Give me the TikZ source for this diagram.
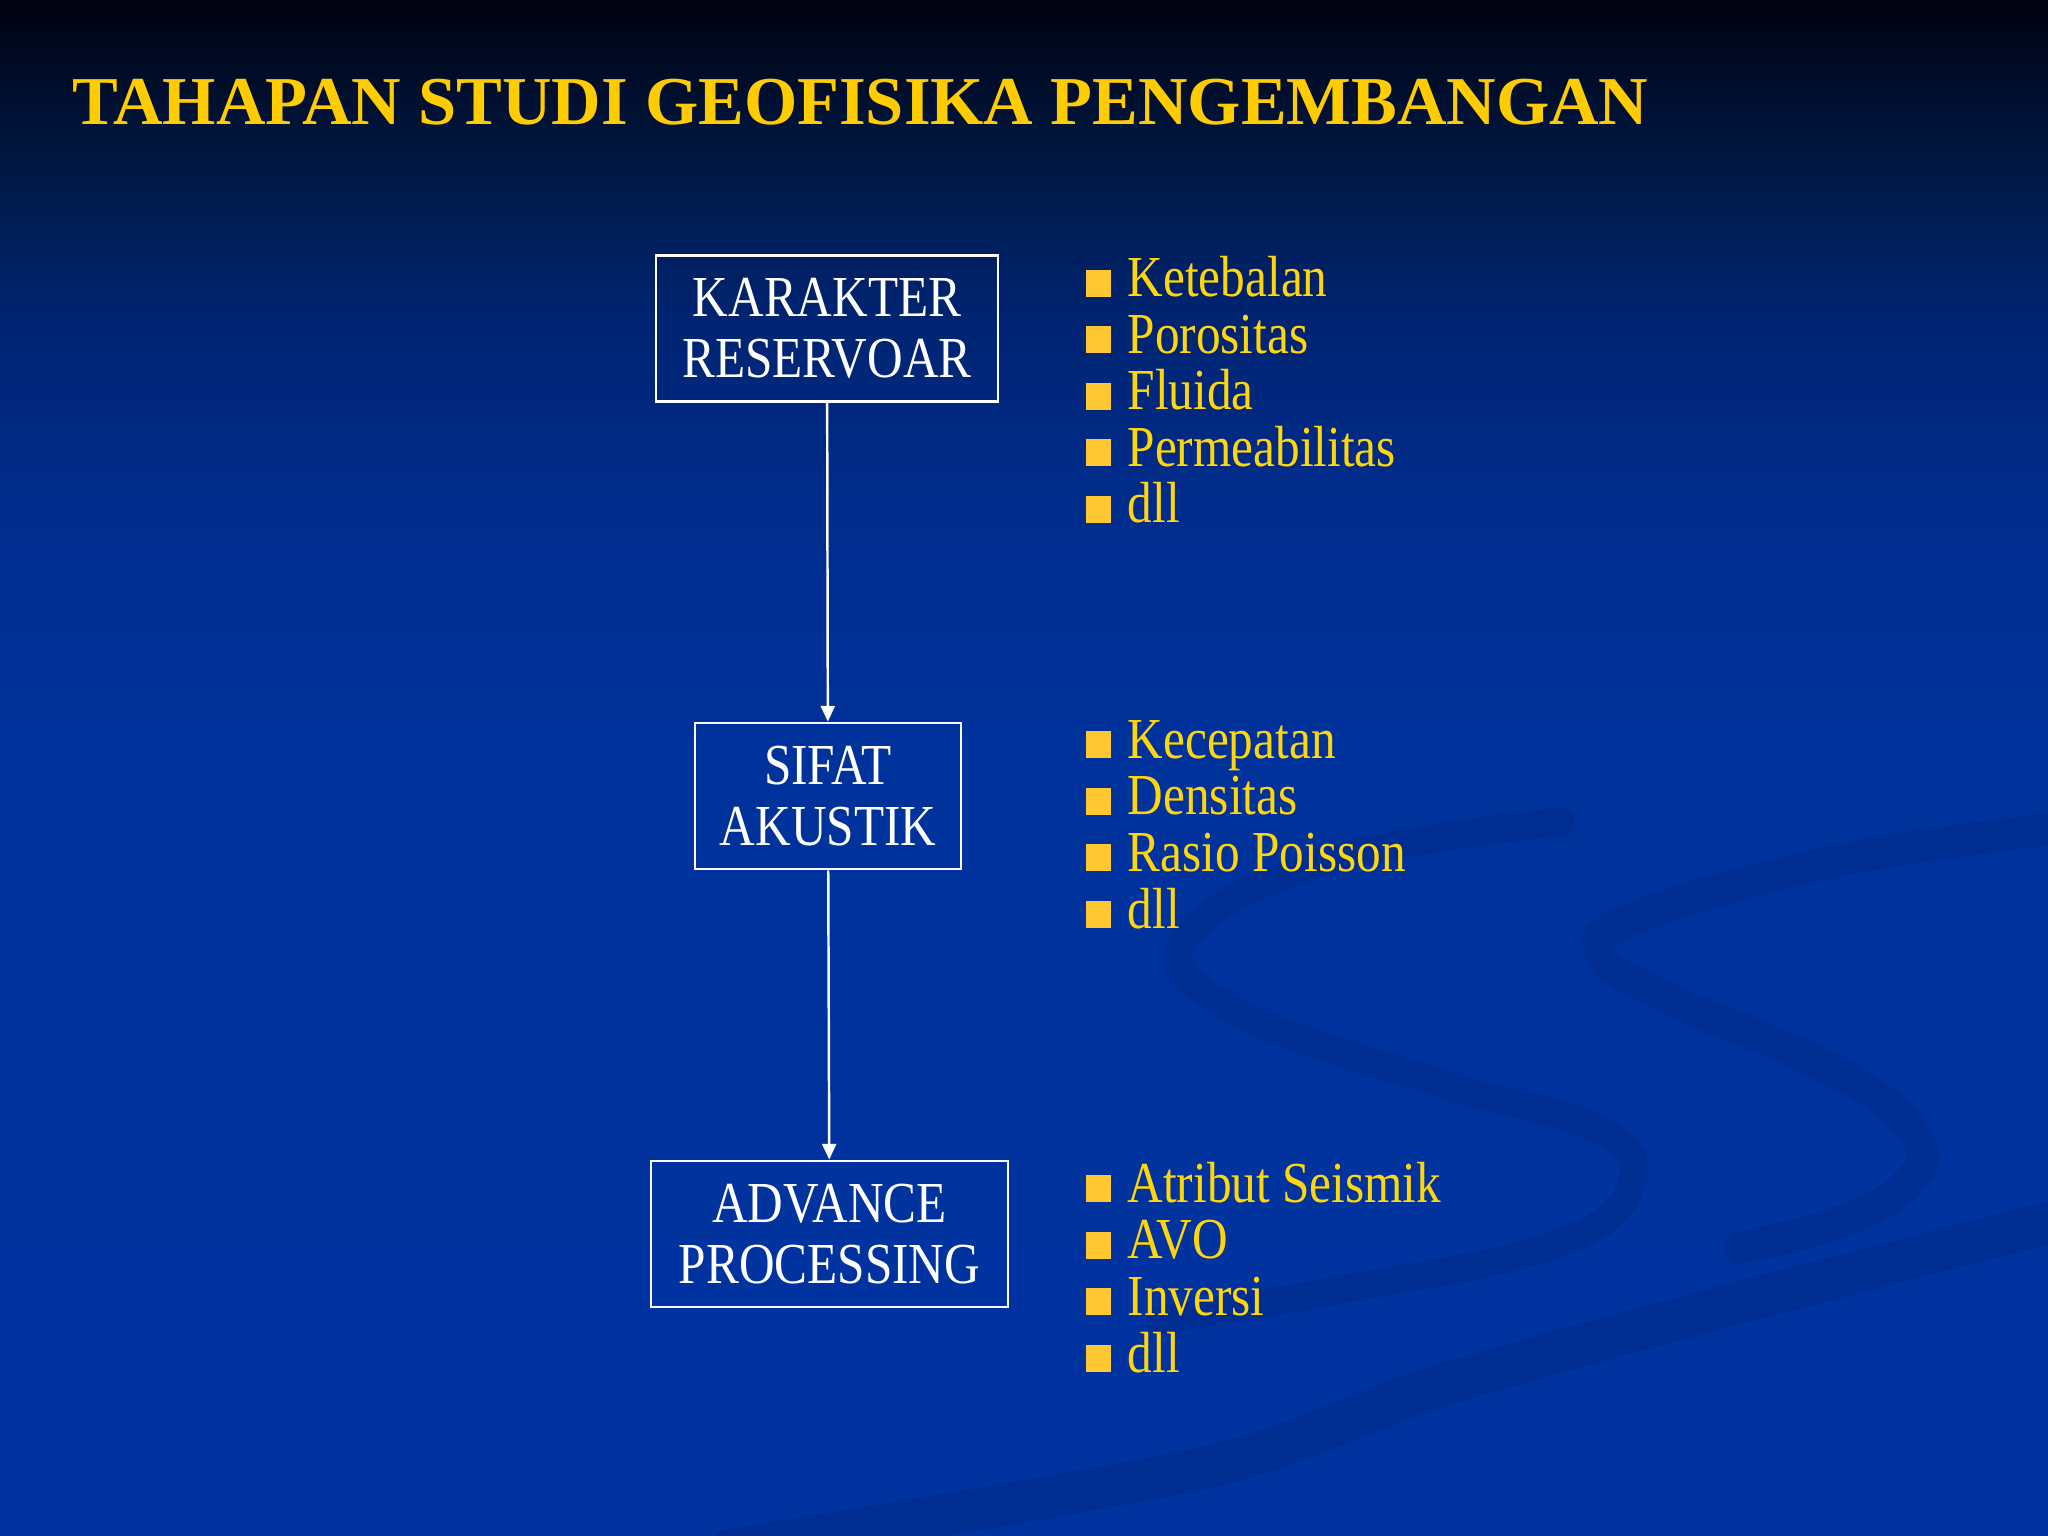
\documentclass[tikz,border=0pt]{standalone}
\usepackage{fontspec}
\setmainfont{Liberation Serif}[FakeStretch=0.85]
\newfontfamily\headfont{Liberation Serif}
\usetikzlibrary{arrows.meta, positioning}

\definecolor{bgtop}{RGB}{0,2,14}
\definecolor{bga}{RGB}{0,8,28}
\definecolor{bgb}{RGB}{0,22,64}
\definecolor{bgc}{RGB}{0,35,110}
\definecolor{bgd}{RGB}{0,44,140}
\definecolor{bge}{RGB}{0,50,156}
\definecolor{bgbot}{RGB}{0,51,160}
\definecolor{headgold}{RGB}{255,204,0}
\definecolor{itemgold}{RGB}{255,214,10}
\definecolor{sqgold}{RGB}{255,200,50}
\definecolor{swirlblue}{RGB}{0,45,146}

\pgfdeclareverticalshading{slidebg}{100bp}{color(0bp)=(bgbot); color(25bp)=(bgbot); color(50.6bp)=(bge); color(58.7bp)=(bgd); color(65.2bp)=(bgc); color(70.1bp)=(bgb); color(73.7bp)=(bga); color(75bp)=(bgtop); color(100bp)=(bgtop)}

\newcommand{\sqbullet}{\textcolor{sqgold}{\rule{0.25cm}{0.27cm}}\hspace{0.17cm}}

\tikzstyle{box} = [rectangle, draw=white, line width=0.8pt, text=white, align=center, minimum height=1.46cm, inner xsep=0pt, font=\fontsize{16.5}{17.4}\selectfont]
\tikzstyle{arrow} = [draw=white, line width=0.7pt, -{Triangle[length=4.5pt,width=4pt]}]
\tikzstyle{listitem} = [anchor=base west, inner sep=0pt, text=itemgold, font=\fontsize{16.5}{17.4}\selectfont]
\tikzstyle{swirl} = [draw=swirlblue, line cap=round]

\begin{document}
\begin{tikzpicture}
	% background
	\shade[shading=slidebg] (0,0) rectangle (20.48,-15.36);
	\useasboundingbox (0,0) rectangle (20.48,-15.36);
	\draw [swirl, line width=0.28cm] plot[smooth, tension=0.7] coordinates {(15.6,-8.22) (13.22,-8.62) (11.84,-9.41) (12.36,-10.11) (14.36,-10.82) (15.97,-11.29) (16.31,-11.85) (15.51,-12.46) (13.22,-12.93) (11.6,-13.2)};
	\draw [swirl, line width=0.32cm] plot[smooth, tension=0.7] coordinates {(20.6,-8.28) (18.37,-8.61) (16.37,-9.17) (16.02,-9.55) (16.65,-9.97) (18.37,-10.72) (19.17,-11.38) (19.06,-11.85) (18.37,-12.23) (17.4,-12.48)};
	\draw [swirl, line width=0.42cm] plot[smooth, tension=0.5] coordinates {(20.6,-12.2) (17.23,-13.07) (14.36,-13.87) (12.07,-14.67) (7.31,-15.5)};

	\node (title) [anchor=base west, inner sep=0pt, text=headgold, font=\headfont\bfseries\fontsize{19.5}{22}\selectfont] at (0.72,-1.25) {TAHAPAN STUDI GEOFISIKA PENGEMBANGAN};

	\node (karakter) [box, minimum width=3.42cm] at (8.27,-3.285) {KARAKTER\\RESERVOAR};
	\node (sifat) [box, minimum width=2.66cm] at (8.28,-7.96) {SIFAT\\AKUSTIK};
	\node (advance) [box, minimum width=3.57cm] at (8.295,-12.34) {ADVANCE\\PROCESSING};
	\draw [arrow] (karakter) -- (sifat);
	\draw [arrow] (sifat) -- (advance);

	\node (k1) [listitem] at (10.85,-2.97) {\sqbullet Ketebalan};
	\node (k2) [listitem] at ([yshift=-5.65mm]k1.base west) {\sqbullet Porositas};
	\node (k3) [listitem] at ([yshift=-5.65mm]k2.base west) {\sqbullet Fluida};
	\node (k4) [listitem] at ([yshift=-5.65mm]k3.base west) {\sqbullet Permeabilitas};
	\node (k5) [listitem] at ([yshift=-5.65mm]k4.base west) {\sqbullet dll};

	\node (s1) [listitem] at (10.85,-7.58) {\sqbullet Kecepatan};
	\node (s2) [listitem] at ([yshift=-5.67mm]s1.base west) {\sqbullet Densitas};
	\node (s3) [listitem] at ([yshift=-5.67mm]s2.base west) {\sqbullet Rasio Poisson};
	\node (s4) [listitem] at ([yshift=-5.67mm]s3.base west) {\sqbullet dll};

	\node (a1) [listitem] at (10.85,-12.02) {\sqbullet Atribut Seismik};
	\node (a2) [listitem] at ([yshift=-5.67mm]a1.base west) {\sqbullet AVO};
	\node (a3) [listitem] at ([yshift=-5.67mm]a2.base west) {\sqbullet Inversi};
	\node (a4) [listitem] at ([yshift=-5.67mm]a3.base west) {\sqbullet dll};
\end{tikzpicture}
\end{document}
